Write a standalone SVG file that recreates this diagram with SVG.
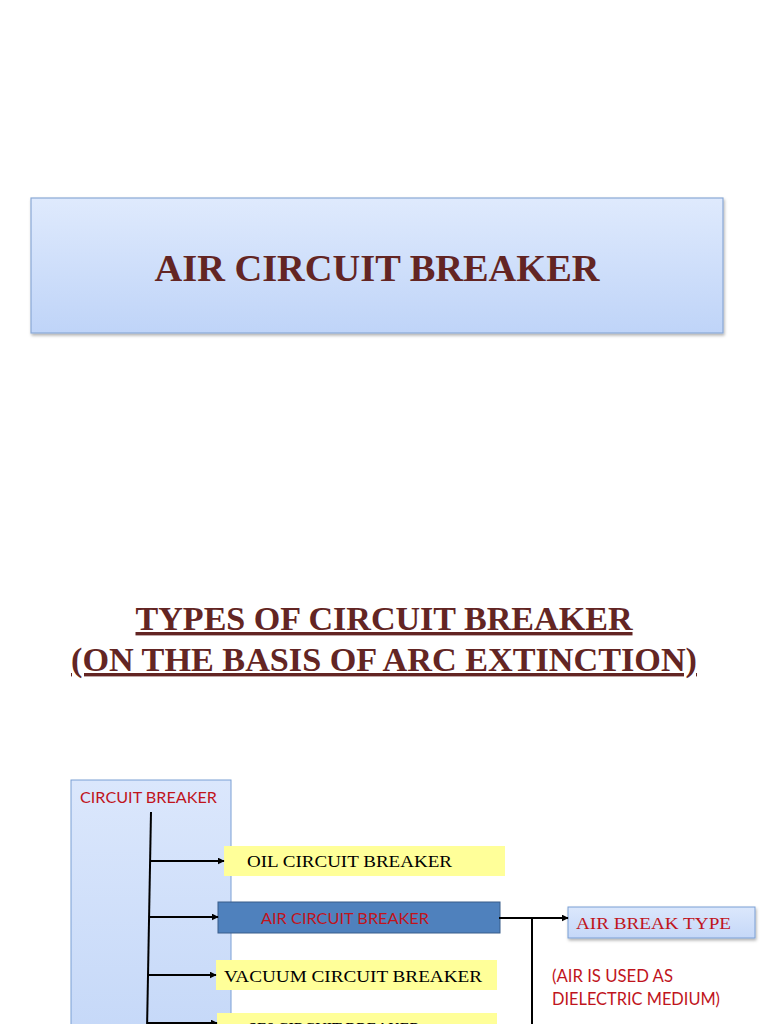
<svg xmlns="http://www.w3.org/2000/svg" width="768" height="1024" viewBox="0 0 768 1024">
<defs>
<linearGradient id="gBlue" x1="0" y1="0" x2="0" y2="1">
<stop offset="0" stop-color="#dfeafd"/>
<stop offset="1" stop-color="#bfd4f8"/>
</linearGradient>
<linearGradient id="gBlue2" x1="0" y1="0" x2="0" y2="1">
<stop offset="0" stop-color="#dbe7fc"/>
<stop offset="1" stop-color="#c5d8f8"/>
</linearGradient>
<filter id="sh" x="-5%" y="-10%" width="110%" height="130%">
<feDropShadow dx="1" dy="2" stdDeviation="1.5" flood-color="#000" flood-opacity="0.3"/>
</filter>
<marker id="ah" viewBox="0 0 10 10" refX="9" refY="5" markerWidth="7" markerHeight="7" markerUnits="userSpaceOnUse" orient="auto">
<path d="M0,0 L10,5 L0,10 z" fill="#000"/>
</marker>
</defs>
<style>
.ser{font-family:"Liberation Serif","Times New Roman",serif}
.sans{font-family:Lato,"Open Sans","Liberation Sans",Arial,sans-serif}
.head{font-weight:bold;fill:#632523}
.red{fill:#c0141c}
.conn{stroke:#000;stroke-width:2;fill:none}
.yel{fill:#ffff99}
</style>
<rect width="768" height="1024" fill="#fff"/>

<g id="title">
<rect x="31" y="198" width="692" height="135" fill="url(#gBlue)" stroke="#8aa9d6" stroke-width="1.2" filter="url(#sh)"/>
<text x="377" y="281" text-anchor="middle" class="ser head" font-size="37" textLength="445" lengthAdjust="spacingAndGlyphs">AIR CIRCUIT BREAKER</text>
</g>

<g id="subtitle">
<text x="384" y="630" text-anchor="middle" class="ser head" font-size="34" textLength="497" lengthAdjust="spacingAndGlyphs" text-decoration="underline">TYPES OF CIRCUIT BREAKER</text>
<text x="384" y="671" text-anchor="middle" class="ser head" font-size="34" textLength="626" lengthAdjust="spacingAndGlyphs" text-decoration="underline">(ON THE BASIS OF ARC EXTINCTION)</text>
</g>

<g id="circuit-breaker">
<rect x="71" y="780" width="160" height="260" fill="url(#gBlue2)" stroke="#7a9fd4" stroke-width="1"/>
<text x="80" y="803" class="sans red" font-size="15.5" textLength="137" lengthAdjust="spacingAndGlyphs">CIRCUIT BREAKER</text>
</g>

<g id="oil">
<rect x="224" y="846" width="281" height="30" class="yel"/>
<text x="247" y="867" class="ser" font-size="16" textLength="205" lengthAdjust="spacingAndGlyphs">OIL CIRCUIT BREAKER</text>
</g>

<g id="air">
<rect x="218" y="902" width="282" height="31" fill="#4f81bd" stroke="#385d8a" stroke-width="1"/>
<text x="261" y="924" class="sans red" font-size="15.5" textLength="168" lengthAdjust="spacingAndGlyphs">AIR CIRCUIT BREAKER</text>
</g>

<g id="vacuum">
<rect x="216" y="960" width="281" height="30" class="yel"/>
<text x="224" y="982" class="ser" font-size="16" textLength="258" lengthAdjust="spacingAndGlyphs">VACUUM CIRCUIT BREAKER</text>
</g>

<g id="sf6">
<rect x="217" y="1013" width="280" height="30" class="yel"/>
<text x="248" y="1034" class="ser" font-size="16">SF6 CIRCUIT BREAKER</text>
</g>

<g id="air-break">
<rect x="568" y="907" width="187" height="31" fill="url(#gBlue2)" stroke="#7a9fd4" stroke-width="1" filter="url(#sh)"/>
<text x="576" y="929" class="ser red" font-size="17" textLength="155" lengthAdjust="spacingAndGlyphs">AIR BREAK TYPE</text>
</g>

<g id="note">
<text x="552" y="982" class="sans red" font-size="16.5" textLength="121" lengthAdjust="spacingAndGlyphs">(AIR IS USED AS</text>
<text x="552" y="1005" class="sans red" font-size="16.5" textLength="168" lengthAdjust="spacingAndGlyphs">DIELECTRIC MEDIUM)</text>
</g>

<g id="connectors">
<line x1="151" y1="812" x2="147" y2="1030" class="conn"/>
<line x1="151" y1="861" x2="224" y2="861" class="conn" marker-end="url(#ah)"/>
<line x1="150" y1="917" x2="218" y2="917" class="conn" marker-end="url(#ah)"/>
<line x1="148" y1="975" x2="216" y2="975" class="conn" marker-end="url(#ah)"/>
<line x1="147" y1="1023" x2="217" y2="1023" class="conn" marker-end="url(#ah)"/>
<line x1="499" y1="918" x2="568" y2="918" class="conn" marker-end="url(#ah)"/>
<line x1="532" y1="918" x2="532" y2="1030" class="conn"/>
</g>
</svg>
